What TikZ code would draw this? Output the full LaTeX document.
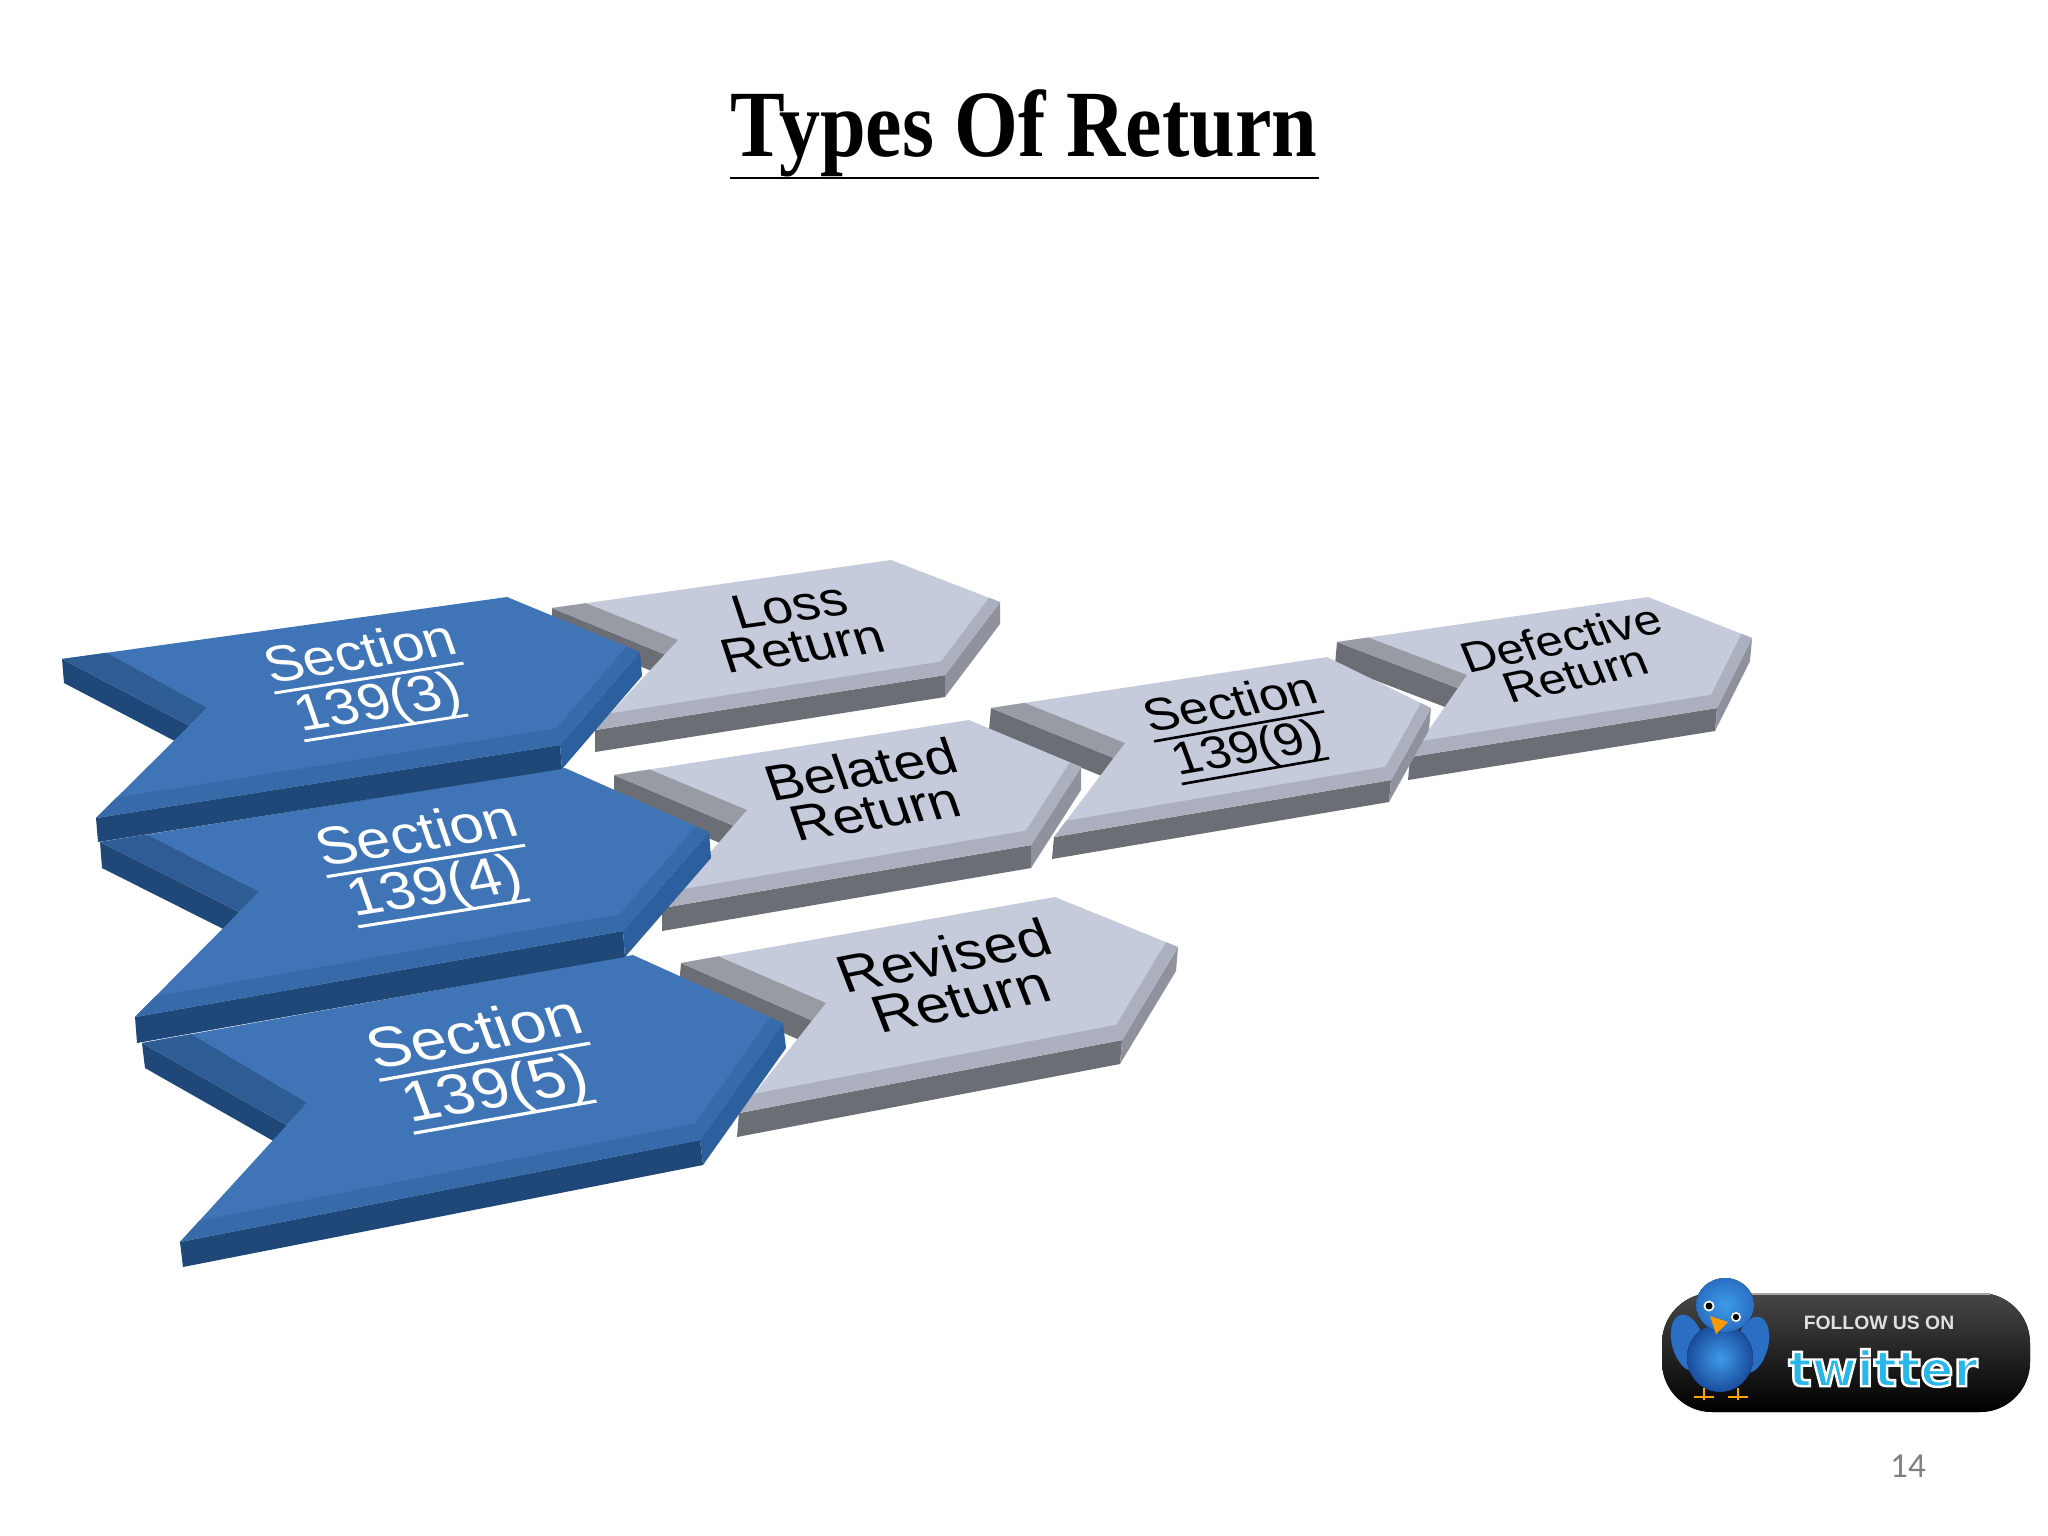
\documentclass[tikz,border=0pt]{standalone}
\usepackage{fontspec}
\usetikzlibrary{calc,shapes.geometric}
\setmainfont{Liberation Sans}
\newfontfamily\titlefont{Liberation Serif}
\newfontfamily\pagefont{Carlito}
\newfontfamily\twitfont{DejaVu Sans}
\definecolor{bluetop}{HTML}{3F74B6}
\definecolor{blueband}{HTML}{376AA8}
\definecolor{bluetail}{HTML}{2E5C94}
\definecolor{blueedge}{HTML}{2C5F9E}
\definecolor{blueside}{HTML}{1F4878}
\definecolor{greytop}{HTML}{C6CBDB}
\definecolor{greyband}{HTML}{ACB0BE}
\definecolor{greytail}{HTML}{989AA4}
\definecolor{greyedge}{HTML}{8F929C}
\definecolor{greyside}{HTML}{6C6E76}
\definecolor{birdlight}{HTML}{3E9BE8}
\definecolor{birdmid}{HTML}{2A6FC4}
\definecolor{birddark}{HTML}{1A4C9C}
\tikzset{
	seclabel/.style={inner sep=0pt, align=center, font=\fontsize{16}{13.8}\selectfont, xslant=-0.18, yscale=0.9},
	whitelabel/.style={seclabel, text=white},
	blacklabel/.style={seclabel, text=black}
}
\def\secul#1{\setbox2\hbox{#1}\leavevmode\rlap{\vrule width\wd2 height-2.6pt depth3.5pt}\box2}
\def\chevron[#1:#2](#3)(#4)(#5)(#6)(#7)(#8)(#9){
	\fill[#1side] (#3) -- ($(#8)!0.16!(#7)$) -- ($($(#8)!0.16!(#7)$)+(#9)$) -- ($(#3)+(#9)$) -- cycle;
	\fill[#1side] (#7) -- (#6) -- ($(#6)+(#9)$) -- ($(#7)+(#9)$) -- cycle;
	\fill[#1edge] (#6) -- (#5) -- ($(#5)+(#9)$) -- ($(#6)+(#9)$) -- cycle;
	\begin{scope}
		\clip (#3) -- (#4) -- (#5) -- (#6) -- (#7) -- (#8) -- cycle;
		\fill[#1top] (0,0) rectangle (2048,1536);
		\draw[#1band, line cap=rect, line width=#2*0.016cm] (#5) -- (#6);
		\draw[#1band, line cap=rect, line width=#2*0.02cm] (#7) -- (#6);
	\end{scope}
	\fill[#1tail] (#3) -- ($(#3)!0.1!(#4)$) -- (#8) -- ($(#8)!0.16!(#7)$) -- cycle;
}

\begin{document}
\begin{tikzpicture}[x=0.01cm, y=-0.01cm]
	\useasboundingbox (0,0) rectangle (2048,1536);
	\fill[white] (0,0) rectangle (2048,1536);

	%%%%% TITLE %%%%%
	\node[anchor=base, inner sep=0pt, xscale=0.865, font=\titlefont\bfseries\fontsize{27}{30}\selectfont] (title) at (1024,156) {Types Of Return};
	\coordinate (titlel) at (730,178);
	\coordinate (titler) at (1319,178);
	\draw[line width=0.015cm] (titlel) -- (titler);

	%%%%% GREY ARROWS %%%%%
	\chevron[grey:14](552,608)(891,560)(1000,602)(945,675)(595,730)(678,640)(0,22);
	\chevron[grey:14](1337,642)(1648,597)(1752,638)(1717,708)(1410,757)(1467,675)(-2,23);
	\chevron[grey:14](991,708)(1327,657)(1431,708)(1391,780)(1054,837)(1125,743)(-2,22);
	\chevron[grey:15](614,775)(969,720)(1081,767)(1031,845)(662,908)(747,810)(0,23);
	\chevron[grey:16](681,963)(1055,897)(1178,947)(1122,1040)(739,1113)(826,1003)(-2,24);

	%%%%% BLUE ARROWS %%%%%
	\chevron[blue:17](142,1043)(633,955)(783,1023)(700,1140)(180,1242)(307,1103)(3,25);
	\chevron[blue:17](100,842)(565,768)(709,832)(623,931)(135,1017)(259,892)(2,26);
	\chevron[blue:17](62,659)(507,597)(640,652)(560,745)(96,818)(207,708)(2,24);

	%%%%% LABELS %%%%%
	\node[rotate=9, scale=1.02, whitelabel] (sec3) at (370,681) {\secul{Section}\\\secul{139(3)}};
	\node[rotate=9, scale=1.07, whitelabel] (sec4) at (427,864) {\secul{Section}\\\secul{139(4)}};
	\node[rotate=10, scale=1.14, whitelabel] (sec5) at (486,1065) {\secul{Section}\\\secul{139(5)}};
	\node[rotate=8, scale=0.96, blacklabel] (loss) at (796,626) {Loss\\Return};
	\node[rotate=9, scale=1.0, blacklabel] (belated) at (868,790) {Belated\\Return};
	\node[rotate=10, scale=0.92, blacklabel] (sec9) at (1240,729) {\secul{Section}\\\secul{139(9)}};
	\node[rotate=12, scale=0.86, blacklabel] (defect) at (1568,656) {Defective\\Return};
	\node[rotate=11, scale=1.05, blacklabel] (revised) at (952,977) {Revised\\Return};

	%%%%% TWITTER BADGE %%%%%
	\fill[top color=black!72, bottom color=black, rounded corners=0.5cm] (1662,1293) rectangle (2030,1412);
	\draw[black!35, line width=0.02cm] (1700,1294) -- (1990,1294);
	\node[inner sep=0pt, text=black!12, font=\bfseries\fontsize{5.5}{6}\selectfont] (follow) at (1879,1323) {FOLLOW US ON};
	\node[inner sep=0pt, text={rgb,255:red,41;green,182;blue,232}, font=\twitfont\bfseries\fontsize{13.9}{15}\selectfont] (twit) at (1883,1368) {\special{pdf:code 2 Tr 0.7 w 1 1 1 RG}twitter\special{pdf:code 0 Tr 0.4 w 0 0 0 RG}};

	% bird
	\fill[birdmid, rotate around={15:(1688,1343)}] (1688,1343) ellipse (16 and 29);
	\fill[birdmid, rotate around={-15:(1752,1345)}] (1752,1345) ellipse (16 and 29);
	\fill[inner color=birdlight, outer color=birddark] (1720,1358) ellipse (33 and 34);
	\fill[inner color=birdlight, outer color=birdmid] (1725,1305) ellipse (29 and 27);
	\fill[white] (1709,1306) circle (5.5);
	\fill[black] (1709,1306) circle (3.5);
	\fill[white] (1736,1317) circle (5);
	\fill[black] (1736,1317) circle (3.2);
	\fill[orange!80!yellow] (1710,1316) -- (1728,1322) -- (1716,1334) -- cycle;
	\draw[orange!70!yellow, line width=0.02cm] (1694,1397) -- (1714,1397) (1704,1388) -- (1704,1400);
	\draw[orange!70!yellow, line width=0.02cm] (1728,1397) -- (1748,1397) (1738,1388) -- (1738,1400);

	%%%%% PAGE NUMBER %%%%%
	\node[inner sep=0pt, text=black!50, font=\pagefont\fontsize{10}{12}\selectfont] (pagenum) at (1908,1466) {14};
\end{tikzpicture}
\end{document}
